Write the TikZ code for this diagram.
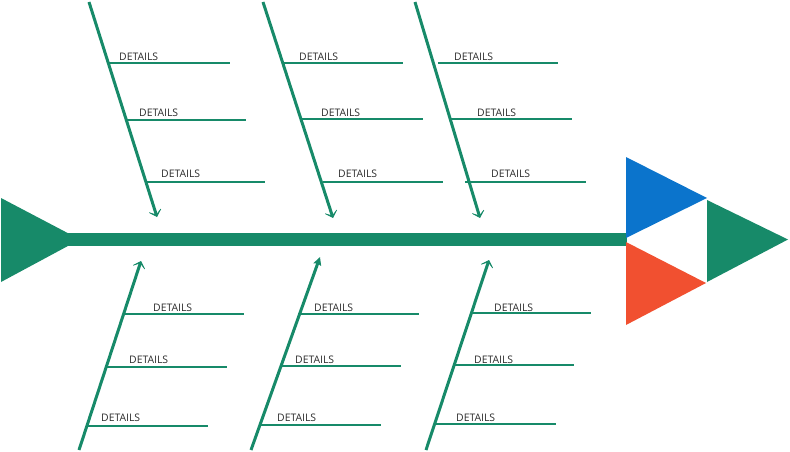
\documentclass[tikz,border=0pt]{standalone}
\usepackage{fontspec}
\setmainfont{Open Sans}
\usetikzlibrary{arrows.meta}
\definecolor{fgreen}{HTML}{178A69}
\definecolor{fblue}{HTML}{0B74CC}
\definecolor{fred}{HTML}{F15030}
\definecolor{ftext}{HTML}{2A2A2A}
\tikzset{
  bone/.style={draw=fgreen, line width=3pt, -{Stealth[length=9pt,width=18pt,inset=6.5pt]}},
  bonesmall/.style={draw=fgreen, line width=3pt, -{Stealth[length=8pt,width=8pt,inset=1pt]}},
  detail/.style={draw=fgreen, line width=2.7pt},
  lbl/.style={anchor=base west, inner sep=0pt, text=ftext, font=\fontsize{10.4}{12}\selectfont},
  spine/.style={draw=fgreen, line width=12.5pt},
}
\begin{document}
\begin{tikzpicture}[x=1pt,y=-1pt]
\useasboundingbox (0,0) rectangle (790,452);
% head and tail
\fill[fgreen] (1,198) -- (80,239.5) -- (1,282) -- cycle;
\draw[spine] (60,239.5) coordinate (sL) -- (627,239.5) coordinate (sR);
\fill[fblue] (626,157) -- (707,198) -- (626,238) -- cycle;
\fill[fred] (626,242) -- (706,283) -- (626,325) -- cycle;
\fill[fgreen] (707,200) -- (788,239.5) -- (707,282) -- cycle;
% top bones
\coordinate (t1s) at (89,2);   \coordinate (t1e) at (157,217);
\coordinate (t2s) at (263,2);  \coordinate (t2e) at (333,218);
\coordinate (t3s) at (415,2);  \coordinate (t3e) at (480,218);
\draw[bone] (t1s) -- (t1e);
\draw[bone] (t2s) -- (t2e);
\draw[bone] (t3s) -- (t3e);
% bottom bones
\coordinate (b1s) at (79,450);  \coordinate (b1e) at (141,261);
\coordinate (b2s) at (251,450); \coordinate (b2e) at (320,257);
\coordinate (b3s) at (426,450); \coordinate (b3e) at (489,260);
\draw[bone] (b1s) -- (b1e);
\draw[bonesmall] (b2s) -- (b2e);
\draw[bone] (b3s) -- (b3e);
% top details
\draw[detail] (108,63) coordinate (d11a) -- (230,63) coordinate (d11b);
\draw[detail] (127,120) coordinate (d12a) -- (246,120) coordinate (d12b);
\draw[detail] (146,182) coordinate (d13a) -- (265,182) coordinate (d13b);
\node[lbl] (l11) at (119,60) {DETAILS};
\node[lbl] (l12) at (139,117) {DETAILS};
\node[lbl] (l13) at (161,177) {DETAILS};
\draw[detail] (283,63) coordinate (d21a) -- (403,63) coordinate (d21b);
\draw[detail] (302,119) coordinate (d22a) -- (423,119) coordinate (d22b);
\draw[detail] (323,182) coordinate (d23a) -- (443,182) coordinate (d23b);
\node[lbl] (l21) at (299,60) {DETAILS};
\node[lbl] (l22) at (321,117) {DETAILS};
\node[lbl] (l23) at (338,177) {DETAILS};
\draw[detail] (438,63) coordinate (d31a) -- (558,63) coordinate (d31b);
\draw[detail] (450,119) coordinate (d32a) -- (572,119) coordinate (d32b);
\draw[detail] (465,182) coordinate (d33a) -- (586,182) coordinate (d33b);
\node[lbl] (l31) at (454,60) {DETAILS};
\node[lbl] (l32) at (477,117) {DETAILS};
\node[lbl] (l33) at (491,177) {DETAILS};
% bottom details
\draw[detail] (123,314) coordinate (e11a) -- (244,314) coordinate (e11b);
\draw[detail] (107,367) coordinate (e12a) -- (227,367) coordinate (e12b);
\draw[detail] (87,426) coordinate (e13a) -- (208,426) coordinate (e13b);
\node[lbl] (m11) at (153,311) {DETAILS};
\node[lbl] (m12) at (129,363) {DETAILS};
\node[lbl] (m13) at (101,421) {DETAILS};
\draw[detail] (298,314) coordinate (e21a) -- (419,314) coordinate (e21b);
\draw[detail] (280,366) coordinate (e22a) -- (401,366) coordinate (e22b);
\draw[detail] (260,425) coordinate (e23a) -- (381,425) coordinate (e23b);
\node[lbl] (m21) at (314,311) {DETAILS};
\node[lbl] (m22) at (295,363) {DETAILS};
\node[lbl] (m23) at (277,421) {DETAILS};
\draw[detail] (470,313) coordinate (e31a) -- (591,313) coordinate (e31b);
\draw[detail] (453,365) coordinate (e32a) -- (574,365) coordinate (e32b);
\draw[detail] (435,424) coordinate (e33a) -- (556,424) coordinate (e33b);
\node[lbl] (m31) at (494,311) {DETAILS};
\node[lbl] (m32) at (474,363) {DETAILS};
\node[lbl] (m33) at (456,421) {DETAILS};
\end{tikzpicture}
\end{document}
